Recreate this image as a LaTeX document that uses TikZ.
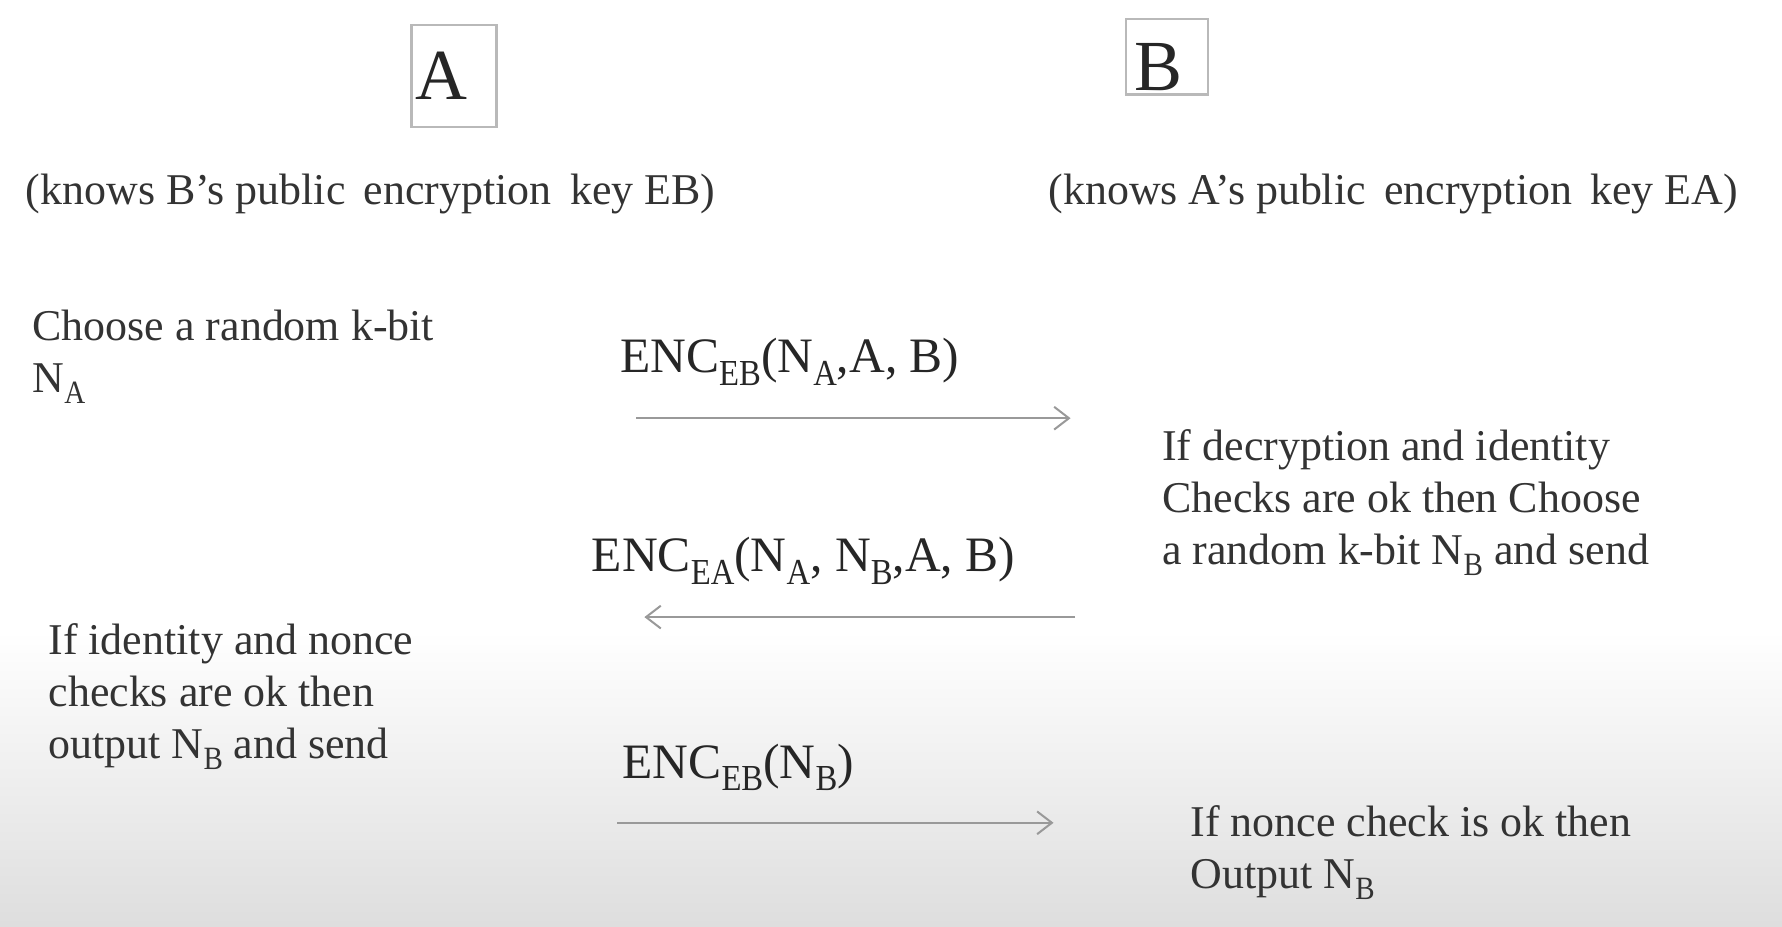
\documentclass[tikz,border=0pt]{standalone}
\usepackage{fontspec}
\usepackage{graphicx}
\setmainfont{Liberation Serif}
\usetikzlibrary{arrows.meta}
\newcommand{\idx}[1]{\raisebox{-0.55ex}{\scalebox{0.66}[0.74]{#1}}}

\begin{document}
\begin{tikzpicture}[
  party/.style={rectangle, draw=gray!55, line width=0.6pt, inner sep=0pt, align=left, font=\fontsize{18}{20}\selectfont, text=black!85},
  note/.style={align=left, inner sep=0pt, anchor=north west, font=\fontsize{11}{13}\selectfont, text=black!80},
  knows/.style={inner sep=0pt, anchor=base west, font=\fontsize{11}{13}\selectfont, text=black!80},
  msg/.style={inner sep=0pt, anchor=base west, font=\fontsize{12.4}{14}\selectfont, text=black!85},
  arrow/.style={-{Straight Barb[length=1.3mm, width=2mm]}, line width=0.5pt, draw=gray!80}
]
  % Background
  \fill[white] (0,0) rectangle (15.68,8.15);
  \shade[top color=white, bottom color=black!13] (0,0) rectangle (15.68,2.6);
  \useasboundingbox (0,0) rectangle (15.68,8.15);

  % Parties
  \node[party, inner xsep=0.04cm, text width=0.67cm, minimum height=0.9cm] (A) at (3.995,7.48) {A};
  \node[party, inner xsep=0.07cm, text width=0.58cm, minimum height=0.66cm, text height=0.6cm, text depth=0cm] (B) at (10.27,7.65) {B};
  \node[knows] (knowsA) at (0.22,6.35) {(knows B's public\, encryption\, key EB)};
  \node[knows] (knowsB) at (9.22,6.35) {(knows A's public\, encryption\, key EA)};

  % Steps of A and B
  \node[note] (stepA1) at (0.28,5.43) {Choose a random k-bit\\N\idx{A}};
  \node[note] (stepB1) at (10.22,4.38) {If decryption and identity\\Checks are ok then Choose\\a random k-bit N\idx{B} and send};
  \node[note] (stepA2) at (0.42,2.67) {If identity and nonce\\checks are ok then\\output N\idx{B} and send};
  \node[note] (stepB2) at (10.47,1.07) {If nonce check is ok then\\Output N\idx{B}};

  % Messages
  \node[msg] (msg1) at (5.45,4.87) {ENC\idx{EB}(N\idx{A},A, B)};
  \node[msg] (msg2) at (5.20,3.12) {ENC\idx{EA}(N\idx{A}, N\idx{B},A, B)};
  \node[msg] (msg3) at (5.47,1.30) {ENC\idx{EB}(N\idx{B})};

  \coordinate (m1s) at (5.60,4.47);
  \coordinate (m1e) at (9.42,4.47);
  \coordinate (m2s) at (9.46,2.72);
  \coordinate (m2e) at (5.67,2.72);
  \coordinate (m3s) at (5.43,0.91);
  \coordinate (m3e) at (9.27,0.91);

  \draw[arrow] (m1s) -- (m1e);
  \draw[arrow] (m2s) -- (m2e);
  \draw[arrow] (m3s) -- (m3e);
\end{tikzpicture}
\end{document}
